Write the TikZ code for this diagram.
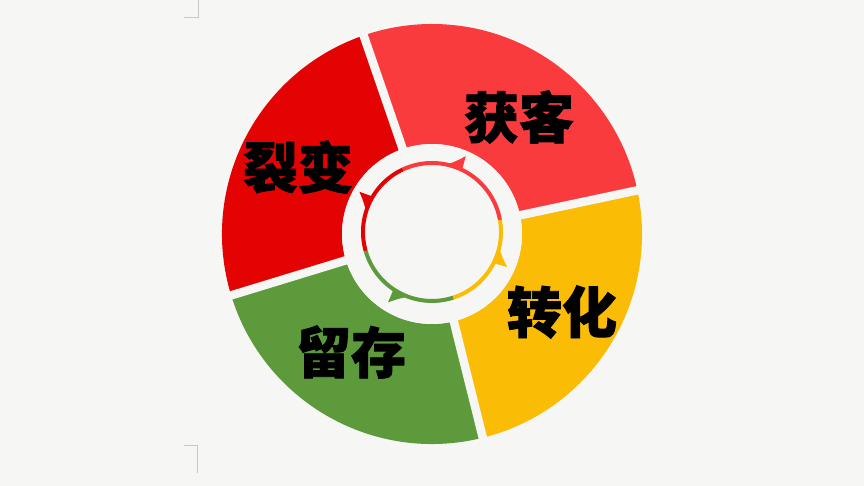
\documentclass[tikz,border=0pt]{standalone}
\usepackage{fontspec}
\newfontfamily\cjk{Noto Sans CJK SC}[BoldFeatures={FakeBold=1.5}]
\definecolor{bg}{HTML}{F6F6F4}
\definecolor{segA}{HTML}{F93B3E}
\definecolor{segB}{HTML}{E30303}
\definecolor{segC}{HTML}{5C9A3C}
\definecolor{segD}{HTML}{FBBC05}
\definecolor{crop}{HTML}{C8C8C6}
\tikzset{
  lbl/.style={font=\cjk\bfseries\fontsize{55}{55}\selectfont, text=black, inner sep=0pt},
  gapline/.style={draw=bg, line width=8.5pt},
  ringarc/.style={line width=4pt},
  cropmark/.style={draw=crop, line width=1pt}
}
\begin{document}
\begin{tikzpicture}[x=1pt,y=1pt]
\fill[bg] (0,0) rectangle (864,486);
\useasboundingbox (0,0) rectangle (864,486);
% crop marks
\draw[cropmark] (184,468) -- (198,468) -- (198,486);
\draw[cropmark] (184,40) -- (197,40) -- (197,13);
\begin{scope}[shift={(432,252)}]
  % outer ring sectors
  \fill[segA] (12:210) arc[start angle=12,end angle=109,radius=210] -- (109:90) arc[start angle=109,end angle=12,radius=90] -- cycle;
  \fill[segB] (109:210) arc[start angle=109,end angle=197,radius=210] -- (197:90) arc[start angle=197,end angle=109,radius=90] -- cycle;
  \fill[segC] (197:210) arc[start angle=197,end angle=284,radius=210] -- (284:90) arc[start angle=284,end angle=197,radius=90] -- cycle;
  \fill[segD] (284:210) arc[start angle=284,end angle=372,radius=210] -- (372:90) arc[start angle=372,end angle=284,radius=90] -- cycle;
  % gaps
  \draw[gapline] (12:80) -- (12:220);
  \draw[gapline] (109:80) -- (109:220);
  \draw[gapline] (197:80) -- (197:220);
  \draw[gapline] (284:80) -- (284:220);
  \fill[bg] (0,0) circle[radius=90];
  % inner ring
  \begin{scope}[shift={(0,2)}]
    \draw[ringarc, segA] (10:69) arc[start angle=10,end angle=115,radius=69];
    \draw[ringarc, segB] (115:69) arc[start angle=115,end angle=196,radius=69];
    \draw[ringarc, segC] (196:69) arc[start angle=196,end angle=288,radius=69];
    \draw[ringarc, segD] (288:69) arc[start angle=288,end angle=370,radius=69];
    % arrowheads
    \fill[segA] (79:68) .. controls (71:75) .. (66:83) -- (64:68) -- cycle;
    \fill[segB] (164:68) .. controls (156:75) .. (151:83) -- (149:68) -- cycle;
    \fill[segC] (251:68) .. controls (243:75) .. (238:83) -- (236:68) -- cycle;
    \fill[segD] (348:68) .. controls (340:75) .. (335:83) -- (333:68) -- cycle;
  \end{scope}
\end{scope}
% labels
\node[lbl] (huoke) at (519,369) {获客};
\node[lbl] (liebian) at (298,319) {裂变};
\node[lbl] (zhuanhua) at (562,174) {转化};
\node[lbl] (liucun) at (351,134) {留存};
\end{tikzpicture}
\end{document}
